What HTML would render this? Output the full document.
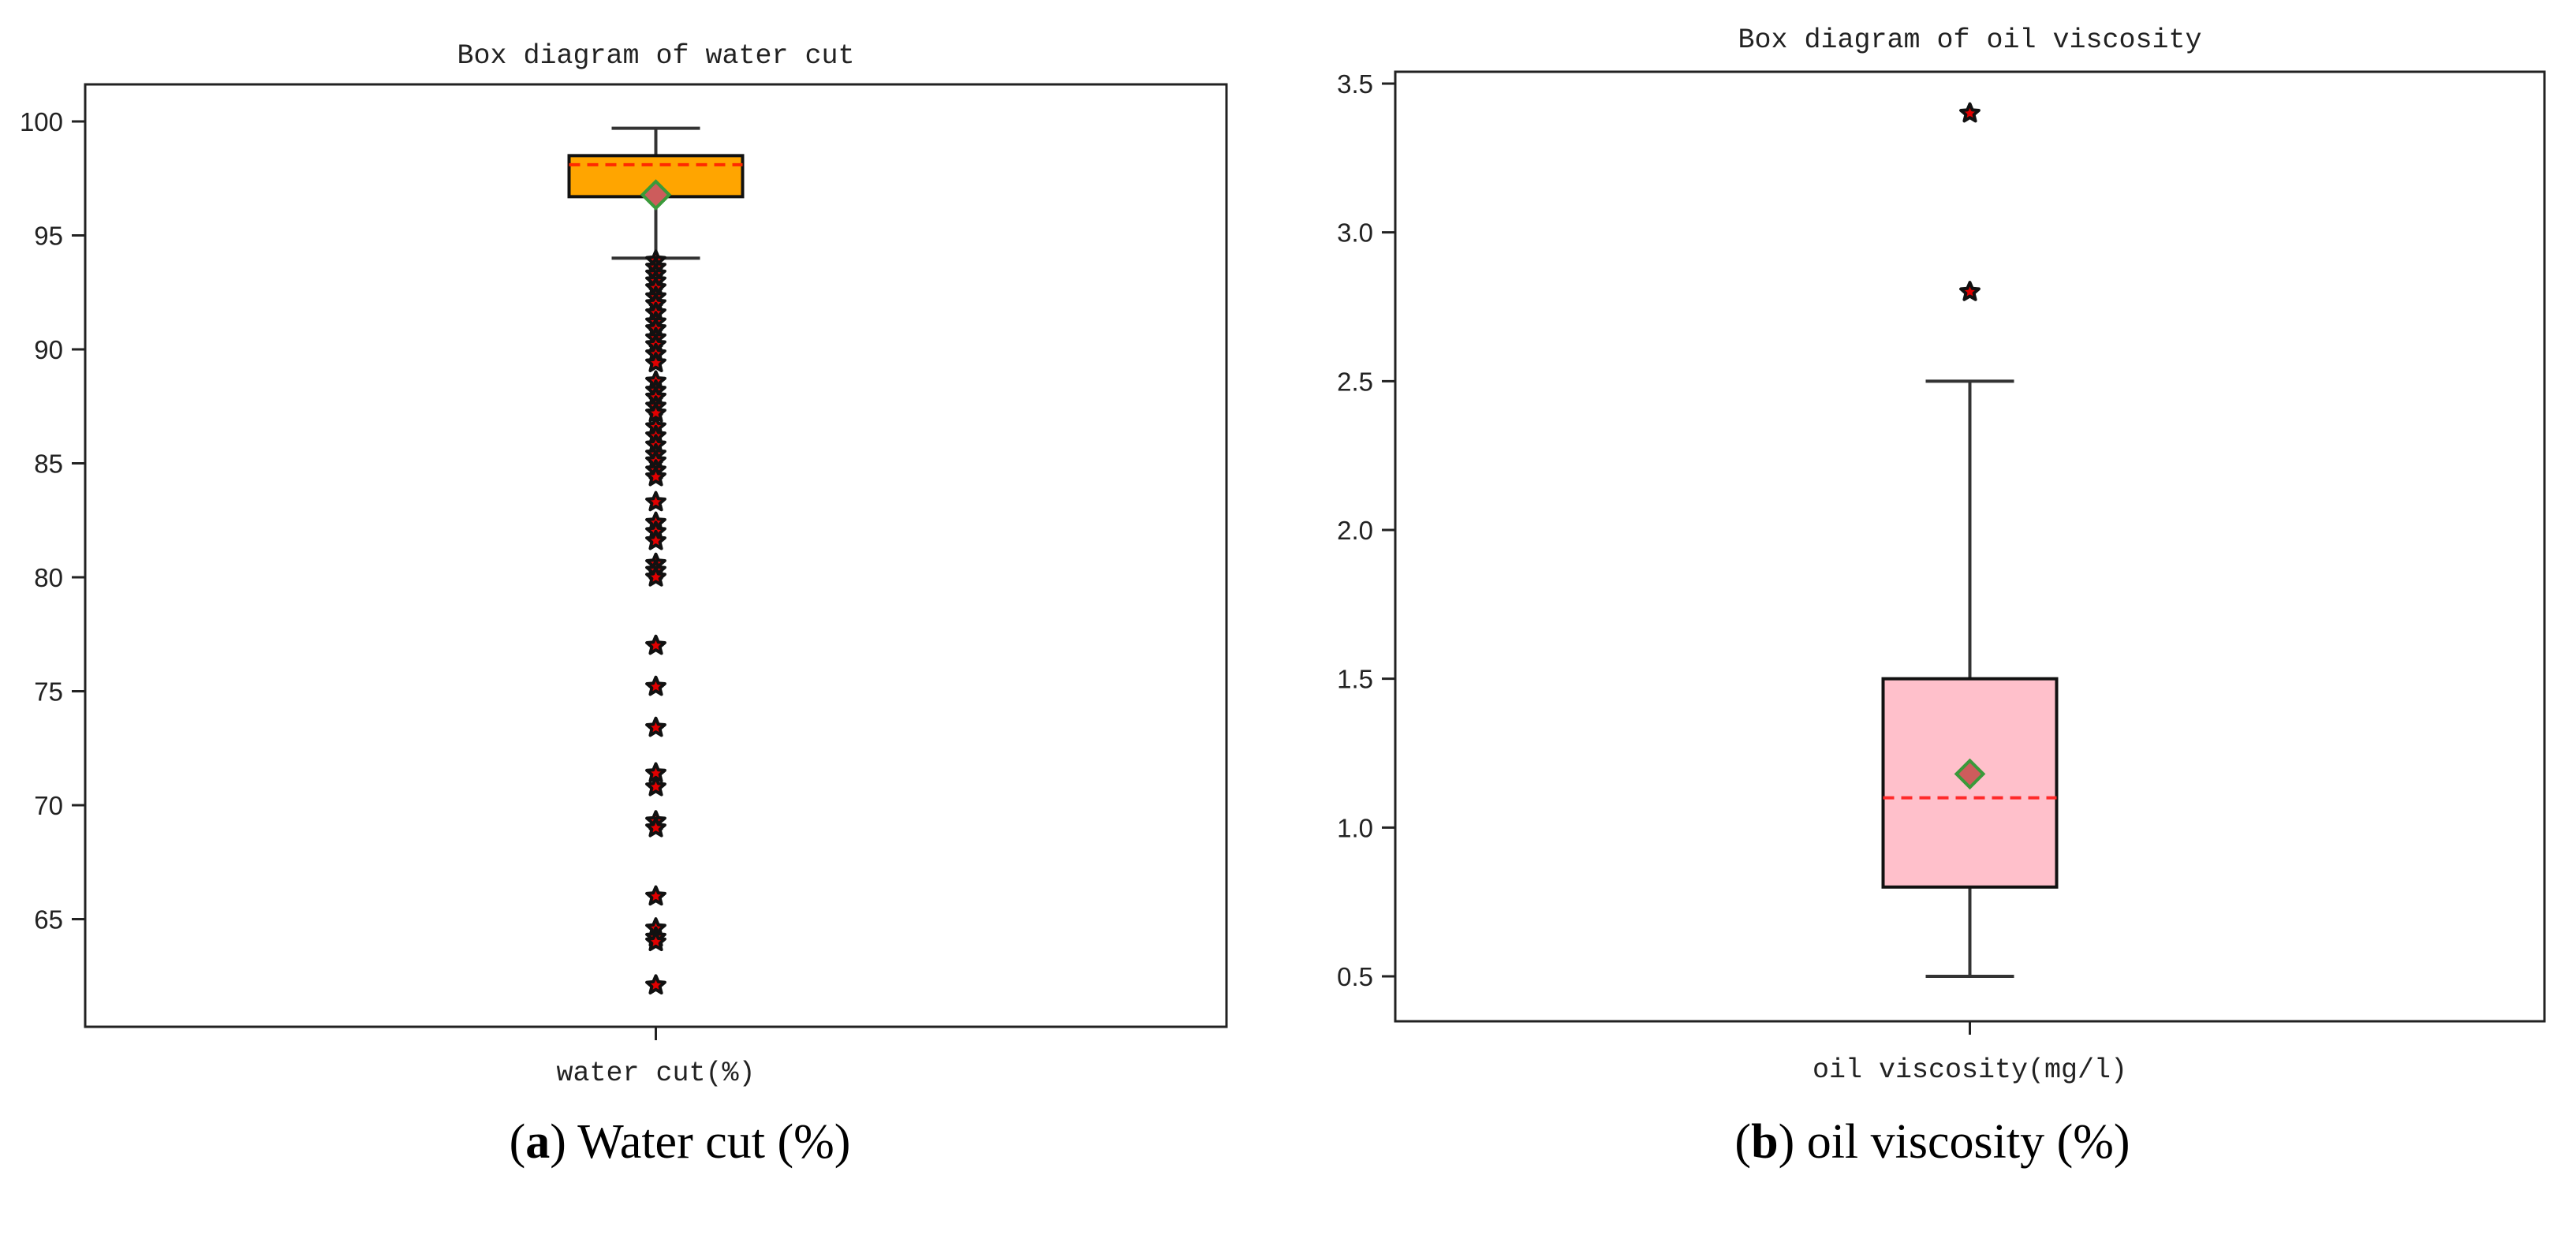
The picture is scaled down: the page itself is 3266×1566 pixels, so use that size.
<!DOCTYPE html>
<html><head><meta charset="utf-8"><style>
html,body{margin:0;padding:0;background:#fff;}
svg{display:block;}
.tk{font-family:"Liberation Sans","WenQuanYi Zen Hei",sans-serif;font-size:33px;fill:#222;}
.tt{font-family:"Liberation Mono","WenQuanYi Zen Hei",monospace;font-size:35px;fill:#222;}
.cap{font-family:"Liberation Serif",serif;font-size:62px;fill:#000;}
</style></head><body>
<svg id="fig" width="3266" height="1566" viewBox="0 0 3266 1566" xmlns="http://www.w3.org/2000/svg">
<text class="cap" x="862" y="1468" text-anchor="middle">(<tspan font-weight="bold">a</tspan>) Water cut (%)</text>
<text class="cap" x="2450" y="1468" text-anchor="middle">(<tspan font-weight="bold">b</tspan>) oil viscosity (%)</text>
</svg>
<script>
// Panel A data
const waterTicks = [65, 70, 75, 80, 85, 90, 95, 100];
const waterStats = [94.0, 96.7, 98.1, 98.5, 99.7]; // whisker-low, q1, median, q3, whisker-high
const waterMean = [96.78];
const waterFliers = [93.9,93.6,93.3,93.0,92.7,92.3,92.0,91.6,91.2,90.9,90.5,90.2,89.8,89.4,88.6,88.2,87.9,87.5,87.2,86.6,86.2,85.8,85.4,85.1,84.7,84.4,83.3,82.4,82.0,81.6,80.6,80.3,80.0,77.0,75.2,73.4,71.4,70.8,69.3,69.0,66.0,64.6,64.2,64.0,62.1];
// Panel B data
const viscTicks = [0.5, 1.0, 1.5, 2.0, 2.5, 3.0, 3.5];
const viscStats = [0.5, 0.8, 1.1, 1.5, 2.5];
const viscMean = [1.18];
const viscFliers = [3.4, 2.8];

const NS='http://www.w3.org/2000/svg';
const svg=document.getElementById('fig');
function mk(tag,attrs,parent){const e=document.createElementNS(NS,tag);for(const k in attrs)e.setAttribute(k,attrs[k]);(parent||svg).appendChild(e);return e;}
function star(cx,cy,r){let p='';for(let i=0;i<10;i++){const a=-Math.PI/2+i*Math.PI/5;const rr=i%2?r*0.45:r;p+=(i?'L':'M')+(cx+rr*Math.cos(a)).toFixed(1)+','+(cy+rr*Math.sin(a)).toFixed(1);}return p+'Z';}

function panel(o){
  const g=mk('g',{});
  
  
  const y=v=>o.y0+(o.v0-v)*o.k;
  const cx=(o.L+o.R)/2;
  const fr=mk('rect',{x:o.L,y:o.T,width:o.R-o.L,height:o.B-o.T,fill:'none',stroke:'#222','stroke-width':3},g);
  
  
  const ti=mk('text',{x:cx,y:o.titleY,'text-anchor':'middle',class:'tt','font-size':o.titleSize},g);ti.textContent=o.title;
  
  
  o.ticks.forEach(t=>{
    mk('line',{x1:o.L-17,x2:o.L,y1:y(t),y2:y(t),stroke:'#222','stroke-width':3},g);
    const tx=mk('text',{x:o.L-28,y:y(t)+12,'text-anchor':'end',class:'tk'},g);
    tx.textContent=o.fmt(t);
    
    
  });
  mk('line',{x1:cx,x2:cx,y1:o.B,y2:o.B+17,stroke:'#222','stroke-width':3},g);
  const xl=mk('text',{x:cx,y:o.xlY,'text-anchor':'middle',class:'tt'},g);xl.textContent=o.xlabel;
  
  
  const s=o.stats;
  mk('line',{x1:cx,x2:cx,y1:y(s[4]),y2:y(s[3]),stroke:'#333','stroke-width':4},g);
  mk('line',{x1:cx,x2:cx,y1:y(s[1]),y2:y(s[0]),stroke:'#333','stroke-width':4},g);
  [s[0],s[4]].forEach(v=>{const c=mk('line',{x1:cx-56,x2:cx+56,y1:y(v),y2:y(v),stroke:'#333','stroke-width':4},g);
    
    });
  const bx=mk('rect',{x:cx-o.hw,y:y(s[3]),width:2*o.hw,height:y(s[1])-y(s[3]),fill:o.fill,stroke:'#111','stroke-width':4},g);
  
  
  const md=mk('line',{x1:cx-o.hw,x2:cx+o.hw,y1:y(s[2]),y2:y(s[2]),stroke:o.medCol,'stroke-width':4,'stroke-dasharray':'14,9'},g);
  
  
  o.fliers.forEach(v=>{const st=mk('path',{d:star(cx,y(v),12),fill:'#e00000',stroke:'#111','stroke-width':4,'stroke-linejoin':'round'},g);
    
    });
  o.mean.forEach(v=>{const m=y(v);const d=mk('path',{d:`M${cx},${m-17}L${cx+17},${m}L${cx},${m+17}L${cx-17},${m}Z`,fill:'#cd5c5c',stroke:'#3a9a3a','stroke-width':4},g);
    
    });
}
panel({name:'water-cut-boxplot',L:108,R:1555,T:107,B:1302,y0:154,v0:100,k:28.9,ticks:waterTicks,fmt:t=>String(t),
  stats:waterStats,mean:waterMean,fliers:waterFliers,hw:110,fill:'#ffa500',medCol:'#ff2a00',
  title:'Box diagram of water cut',titleY:80,titleSize:35,xlabel:'water cut(%)',xlY:1370});
panel({name:'oil-viscosity-boxplot',L:1769,R:3226,T:91,B:1295,y0:106,v0:3.5,k:377.33,ticks:viscTicks,fmt:t=>t.toFixed(1),
  stats:viscStats,mean:viscMean,fliers:viscFliers,hw:110,fill:'#ffc0cb',medCol:'#ff2a2a',
  title:'Box diagram of oil viscosity',titleY:60,titleSize:34,xlabel:'oil viscosity(mg/l)',xlY:1366});
</script>
</body></html>
